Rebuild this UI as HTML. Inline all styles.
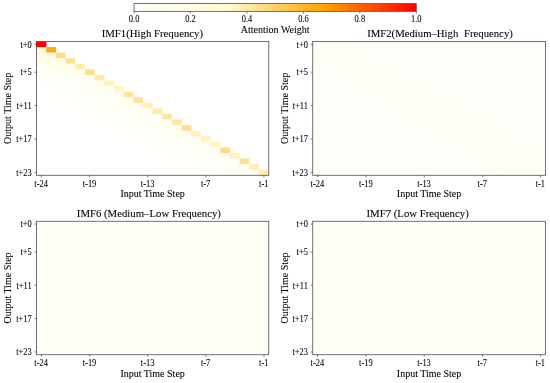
<!DOCTYPE html>
<html><head><meta charset="utf-8"><title>Attention Weight Heatmaps</title>
<style>
html,body{margin:0;padding:0;background:#fff;}
svg{display:block;}
text{font-family:"Liberation Serif","Times New Roman",serif;fill:#000;stroke:#000;stroke-width:0.08px;}
.tk{font-size:10.2px;}
.lb{font-size:10px;}
.tt{font-size:10.77px;}
</style></head><body>
<svg width="550" height="383" viewBox="0 0 550 383">
<defs><linearGradient id="cb" x1="0" x2="1" y1="0" y2="0">
<stop offset="0.0" stop-color="#ffffff"/>
<stop offset="0.3333333333333333" stop-color="#fffbd2"/>
<stop offset="0.6666666666666666" stop-color="#ffa500"/>
<stop offset="1.0" stop-color="#ff0000"/>
</linearGradient></defs>
<rect width="550" height="383" fill="#fff"/>
<rect x="134.1" y="3.5" width="282.20" height="7.90" fill="url(#cb)" stroke="#626262" stroke-width="0.9"/>
<line x1="134.10" x2="134.10" y1="11.4" y2="13.4" stroke="#444" stroke-width="0.7"/>
<text class="tk" transform="translate(134.10,21.7) scale(0.825,1)" text-anchor="middle">0.0</text>
<line x1="190.54" x2="190.54" y1="11.4" y2="13.4" stroke="#444" stroke-width="0.7"/>
<text class="tk" transform="translate(190.54,21.7) scale(0.825,1)" text-anchor="middle">0.2</text>
<line x1="246.98" x2="246.98" y1="11.4" y2="13.4" stroke="#444" stroke-width="0.7"/>
<text class="tk" transform="translate(246.98,21.7) scale(0.825,1)" text-anchor="middle">0.4</text>
<line x1="303.42" x2="303.42" y1="11.4" y2="13.4" stroke="#444" stroke-width="0.7"/>
<text class="tk" transform="translate(303.42,21.7) scale(0.825,1)" text-anchor="middle">0.6</text>
<line x1="359.86" x2="359.86" y1="11.4" y2="13.4" stroke="#444" stroke-width="0.7"/>
<text class="tk" transform="translate(359.86,21.7) scale(0.825,1)" text-anchor="middle">0.8</text>
<line x1="416.30" x2="416.30" y1="11.4" y2="13.4" stroke="#444" stroke-width="0.7"/>
<text class="tk" transform="translate(416.30,21.7) scale(0.825,1)" text-anchor="middle">1.0</text>
<text class="lb" x="275.20" y="32.8" text-anchor="middle">Attention Weight</text>
<g>
<rect x="36.5" y="41.5" width="232.25" height="133.8" fill="#ffffff"/>
<rect x="36.50" y="41.50" width="9.73" height="5.62" fill="#ff0000"/>
<rect x="36.50" y="47.08" width="9.73" height="5.62" fill="#fffacf"/>
<rect x="46.18" y="47.08" width="9.73" height="5.62" fill="#ffa90a"/>
<rect x="36.50" y="52.65" width="9.73" height="5.62" fill="#fffce2"/>
<rect x="46.18" y="52.65" width="9.73" height="5.62" fill="#fffcda"/>
<rect x="55.85" y="52.65" width="9.73" height="5.62" fill="#ffdd8a"/>
<rect x="36.50" y="58.23" width="9.73" height="5.62" fill="#fffdee"/>
<rect x="46.18" y="58.23" width="9.73" height="5.62" fill="#fffde9"/>
<rect x="55.85" y="58.23" width="9.73" height="5.62" fill="#fffce3"/>
<rect x="65.53" y="58.23" width="9.73" height="5.62" fill="#ffe193"/>
<rect x="36.50" y="63.80" width="9.73" height="5.62" fill="#fffef3"/>
<rect x="46.18" y="63.80" width="9.73" height="5.62" fill="#fffef0"/>
<rect x="55.85" y="63.80" width="9.73" height="5.62" fill="#fffdeb"/>
<rect x="65.53" y="63.80" width="9.73" height="5.62" fill="#fffde6"/>
<rect x="75.21" y="63.80" width="9.73" height="5.62" fill="#ffedb0"/>
<rect x="36.50" y="69.38" width="9.73" height="5.62" fill="#fffef7"/>
<rect x="46.18" y="69.38" width="9.73" height="5.62" fill="#fffef5"/>
<rect x="55.85" y="69.38" width="9.73" height="5.62" fill="#fffef3"/>
<rect x="65.53" y="69.38" width="9.73" height="5.62" fill="#fffeef"/>
<rect x="75.21" y="69.38" width="9.73" height="5.62" fill="#fffdea"/>
<rect x="84.89" y="69.38" width="9.73" height="5.62" fill="#ffdf8d"/>
<rect x="36.50" y="74.95" width="9.73" height="5.62" fill="#fffef9"/>
<rect x="46.18" y="74.95" width="9.73" height="5.62" fill="#fffef8"/>
<rect x="55.85" y="74.95" width="9.73" height="5.62" fill="#fffef6"/>
<rect x="65.53" y="74.95" width="9.73" height="5.62" fill="#fffef3"/>
<rect x="75.21" y="74.95" width="9.73" height="5.62" fill="#fffeef"/>
<rect x="84.89" y="74.95" width="9.73" height="5.62" fill="#fffdeb"/>
<rect x="94.56" y="74.95" width="9.73" height="5.62" fill="#ffe8a3"/>
<rect x="36.50" y="80.53" width="9.73" height="5.62" fill="#fffffb"/>
<rect x="46.18" y="80.53" width="9.73" height="5.62" fill="#fffef9"/>
<rect x="55.85" y="80.53" width="9.73" height="5.62" fill="#fffef8"/>
<rect x="65.53" y="80.53" width="9.73" height="5.62" fill="#fffef6"/>
<rect x="75.21" y="80.53" width="9.73" height="5.62" fill="#fffef3"/>
<rect x="84.89" y="80.53" width="9.73" height="5.62" fill="#fffeef"/>
<rect x="94.56" y="80.53" width="9.73" height="5.62" fill="#fffdeb"/>
<rect x="104.24" y="80.53" width="9.73" height="5.62" fill="#fff2bc"/>
<rect x="36.50" y="86.10" width="9.73" height="5.62" fill="#fffffc"/>
<rect x="46.18" y="86.10" width="9.73" height="5.62" fill="#fffffb"/>
<rect x="55.85" y="86.10" width="9.73" height="5.62" fill="#fffff9"/>
<rect x="65.53" y="86.10" width="9.73" height="5.62" fill="#fffef8"/>
<rect x="75.21" y="86.10" width="9.73" height="5.62" fill="#fffef6"/>
<rect x="84.89" y="86.10" width="9.73" height="5.62" fill="#fffef3"/>
<rect x="94.56" y="86.10" width="9.73" height="5.62" fill="#fffef0"/>
<rect x="104.24" y="86.10" width="9.73" height="5.62" fill="#fffdeb"/>
<rect x="113.92" y="86.10" width="9.73" height="5.62" fill="#fff5c2"/>
<rect x="36.50" y="91.68" width="9.73" height="5.62" fill="#fffffd"/>
<rect x="46.18" y="91.68" width="9.73" height="5.62" fill="#fffffc"/>
<rect x="55.85" y="91.68" width="9.73" height="5.62" fill="#fffffb"/>
<rect x="65.53" y="91.68" width="9.73" height="5.62" fill="#fffffa"/>
<rect x="75.21" y="91.68" width="9.73" height="5.62" fill="#fffef9"/>
<rect x="84.89" y="91.68" width="9.73" height="5.62" fill="#fffef7"/>
<rect x="94.56" y="91.68" width="9.73" height="5.62" fill="#fffef5"/>
<rect x="104.24" y="91.68" width="9.73" height="5.62" fill="#fffef2"/>
<rect x="113.92" y="91.68" width="9.73" height="5.62" fill="#fffdee"/>
<rect x="123.59" y="91.68" width="9.73" height="5.62" fill="#ffe59d"/>
<rect x="36.50" y="97.25" width="9.73" height="5.62" fill="#fffffd"/>
<rect x="46.18" y="97.25" width="9.73" height="5.62" fill="#fffffd"/>
<rect x="55.85" y="97.25" width="9.73" height="5.62" fill="#fffffc"/>
<rect x="65.53" y="97.25" width="9.73" height="5.62" fill="#fffffb"/>
<rect x="75.21" y="97.25" width="9.73" height="5.62" fill="#fffffa"/>
<rect x="84.89" y="97.25" width="9.73" height="5.62" fill="#fffef9"/>
<rect x="94.56" y="97.25" width="9.73" height="5.62" fill="#fffef7"/>
<rect x="104.24" y="97.25" width="9.73" height="5.62" fill="#fffef5"/>
<rect x="113.92" y="97.25" width="9.73" height="5.62" fill="#fffef2"/>
<rect x="123.59" y="97.25" width="9.73" height="5.62" fill="#fffeef"/>
<rect x="133.27" y="97.25" width="9.73" height="5.62" fill="#ffe193"/>
<rect x="36.50" y="102.83" width="9.73" height="5.62" fill="#fffffe"/>
<rect x="46.18" y="102.83" width="9.73" height="5.62" fill="#fffffd"/>
<rect x="55.85" y="102.83" width="9.73" height="5.62" fill="#fffffd"/>
<rect x="65.53" y="102.83" width="9.73" height="5.62" fill="#fffffc"/>
<rect x="75.21" y="102.83" width="9.73" height="5.62" fill="#fffffb"/>
<rect x="84.89" y="102.83" width="9.73" height="5.62" fill="#fffffa"/>
<rect x="94.56" y="102.83" width="9.73" height="5.62" fill="#fffef9"/>
<rect x="104.24" y="102.83" width="9.73" height="5.62" fill="#fffef7"/>
<rect x="113.92" y="102.83" width="9.73" height="5.62" fill="#fffef4"/>
<rect x="123.59" y="102.83" width="9.73" height="5.62" fill="#fffef1"/>
<rect x="133.27" y="102.83" width="9.73" height="5.62" fill="#fffded"/>
<rect x="142.95" y="102.83" width="9.73" height="5.62" fill="#fff1b9"/>
<rect x="36.50" y="108.40" width="9.73" height="5.62" fill="#fffffe"/>
<rect x="46.18" y="108.40" width="9.73" height="5.62" fill="#fffffe"/>
<rect x="55.85" y="108.40" width="9.73" height="5.62" fill="#fffffd"/>
<rect x="65.53" y="108.40" width="9.73" height="5.62" fill="#fffffd"/>
<rect x="75.21" y="108.40" width="9.73" height="5.62" fill="#fffffc"/>
<rect x="84.89" y="108.40" width="9.73" height="5.62" fill="#fffffb"/>
<rect x="94.56" y="108.40" width="9.73" height="5.62" fill="#fffffa"/>
<rect x="104.24" y="108.40" width="9.73" height="5.62" fill="#fffef9"/>
<rect x="113.92" y="108.40" width="9.73" height="5.62" fill="#fffef7"/>
<rect x="123.59" y="108.40" width="9.73" height="5.62" fill="#fffef5"/>
<rect x="133.27" y="108.40" width="9.73" height="5.62" fill="#fffef2"/>
<rect x="142.95" y="108.40" width="9.73" height="5.62" fill="#fffeee"/>
<rect x="152.62" y="108.40" width="9.73" height="5.62" fill="#ffe9a6"/>
<rect x="36.50" y="113.98" width="9.73" height="5.62" fill="#fffffe"/>
<rect x="46.18" y="113.98" width="9.73" height="5.62" fill="#fffffe"/>
<rect x="55.85" y="113.98" width="9.73" height="5.62" fill="#fffffe"/>
<rect x="65.53" y="113.98" width="9.73" height="5.62" fill="#fffffd"/>
<rect x="75.21" y="113.98" width="9.73" height="5.62" fill="#fffffd"/>
<rect x="84.89" y="113.98" width="9.73" height="5.62" fill="#fffffc"/>
<rect x="94.56" y="113.98" width="9.73" height="5.62" fill="#fffffb"/>
<rect x="104.24" y="113.98" width="9.73" height="5.62" fill="#fffffa"/>
<rect x="113.92" y="113.98" width="9.73" height="5.62" fill="#fffef9"/>
<rect x="123.59" y="113.98" width="9.73" height="5.62" fill="#fffef7"/>
<rect x="133.27" y="113.98" width="9.73" height="5.62" fill="#fffef5"/>
<rect x="142.95" y="113.98" width="9.73" height="5.62" fill="#fffef3"/>
<rect x="152.62" y="113.98" width="9.73" height="5.62" fill="#fffeef"/>
<rect x="162.30" y="113.98" width="9.73" height="5.62" fill="#ffe59d"/>
<rect x="36.50" y="119.55" width="9.73" height="5.62" fill="#fffffe"/>
<rect x="46.18" y="119.55" width="9.73" height="5.62" fill="#fffffe"/>
<rect x="55.85" y="119.55" width="9.73" height="5.62" fill="#fffffe"/>
<rect x="65.53" y="119.55" width="9.73" height="5.62" fill="#fffffe"/>
<rect x="75.21" y="119.55" width="9.73" height="5.62" fill="#fffffd"/>
<rect x="84.89" y="119.55" width="9.73" height="5.62" fill="#fffffd"/>
<rect x="94.56" y="119.55" width="9.73" height="5.62" fill="#fffffc"/>
<rect x="104.24" y="119.55" width="9.73" height="5.62" fill="#fffffb"/>
<rect x="113.92" y="119.55" width="9.73" height="5.62" fill="#fffffa"/>
<rect x="123.59" y="119.55" width="9.73" height="5.62" fill="#fffef9"/>
<rect x="133.27" y="119.55" width="9.73" height="5.62" fill="#fffef7"/>
<rect x="142.95" y="119.55" width="9.73" height="5.62" fill="#fffef5"/>
<rect x="152.62" y="119.55" width="9.73" height="5.62" fill="#fffef3"/>
<rect x="162.30" y="119.55" width="9.73" height="5.62" fill="#fffeef"/>
<rect x="171.98" y="119.55" width="9.73" height="5.62" fill="#ffe8a3"/>
<rect x="36.50" y="125.12" width="9.73" height="5.62" fill="#ffffff"/>
<rect x="46.18" y="125.12" width="9.73" height="5.62" fill="#fffffe"/>
<rect x="55.85" y="125.12" width="9.73" height="5.62" fill="#fffffe"/>
<rect x="65.53" y="125.12" width="9.73" height="5.62" fill="#fffffe"/>
<rect x="75.21" y="125.12" width="9.73" height="5.62" fill="#fffffe"/>
<rect x="84.89" y="125.12" width="9.73" height="5.62" fill="#fffffd"/>
<rect x="94.56" y="125.12" width="9.73" height="5.62" fill="#fffffd"/>
<rect x="104.24" y="125.12" width="9.73" height="5.62" fill="#fffffc"/>
<rect x="113.92" y="125.12" width="9.73" height="5.62" fill="#fffffc"/>
<rect x="123.59" y="125.12" width="9.73" height="5.62" fill="#fffffb"/>
<rect x="133.27" y="125.12" width="9.73" height="5.62" fill="#fffffa"/>
<rect x="142.95" y="125.12" width="9.73" height="5.62" fill="#fffef8"/>
<rect x="152.62" y="125.12" width="9.73" height="5.62" fill="#fffef6"/>
<rect x="162.30" y="125.12" width="9.73" height="5.62" fill="#fffef3"/>
<rect x="171.98" y="125.12" width="9.73" height="5.62" fill="#fffef0"/>
<rect x="181.66" y="125.12" width="9.73" height="5.62" fill="#ffdd8a"/>
<rect x="36.50" y="130.70" width="9.73" height="5.62" fill="#ffffff"/>
<rect x="46.18" y="130.70" width="9.73" height="5.62" fill="#fffffe"/>
<rect x="55.85" y="130.70" width="9.73" height="5.62" fill="#fffffe"/>
<rect x="65.53" y="130.70" width="9.73" height="5.62" fill="#fffffe"/>
<rect x="75.21" y="130.70" width="9.73" height="5.62" fill="#fffffe"/>
<rect x="84.89" y="130.70" width="9.73" height="5.62" fill="#fffffe"/>
<rect x="94.56" y="130.70" width="9.73" height="5.62" fill="#fffffd"/>
<rect x="104.24" y="130.70" width="9.73" height="5.62" fill="#fffffd"/>
<rect x="113.92" y="130.70" width="9.73" height="5.62" fill="#fffffc"/>
<rect x="123.59" y="130.70" width="9.73" height="5.62" fill="#fffffb"/>
<rect x="133.27" y="130.70" width="9.73" height="5.62" fill="#fffffa"/>
<rect x="142.95" y="130.70" width="9.73" height="5.62" fill="#fffef9"/>
<rect x="152.62" y="130.70" width="9.73" height="5.62" fill="#fffef7"/>
<rect x="162.30" y="130.70" width="9.73" height="5.62" fill="#fffef5"/>
<rect x="171.98" y="130.70" width="9.73" height="5.62" fill="#fffef2"/>
<rect x="181.66" y="130.70" width="9.73" height="5.62" fill="#fffdee"/>
<rect x="191.33" y="130.70" width="9.73" height="5.62" fill="#fff2bc"/>
<rect x="36.50" y="136.28" width="9.73" height="5.62" fill="#ffffff"/>
<rect x="46.18" y="136.28" width="9.73" height="5.62" fill="#ffffff"/>
<rect x="55.85" y="136.28" width="9.73" height="5.62" fill="#fffffe"/>
<rect x="65.53" y="136.28" width="9.73" height="5.62" fill="#fffffe"/>
<rect x="75.21" y="136.28" width="9.73" height="5.62" fill="#fffffe"/>
<rect x="84.89" y="136.28" width="9.73" height="5.62" fill="#fffffe"/>
<rect x="94.56" y="136.28" width="9.73" height="5.62" fill="#fffffe"/>
<rect x="104.24" y="136.28" width="9.73" height="5.62" fill="#fffffd"/>
<rect x="113.92" y="136.28" width="9.73" height="5.62" fill="#fffffd"/>
<rect x="123.59" y="136.28" width="9.73" height="5.62" fill="#fffffc"/>
<rect x="133.27" y="136.28" width="9.73" height="5.62" fill="#fffffb"/>
<rect x="142.95" y="136.28" width="9.73" height="5.62" fill="#fffffa"/>
<rect x="152.62" y="136.28" width="9.73" height="5.62" fill="#fffef9"/>
<rect x="162.30" y="136.28" width="9.73" height="5.62" fill="#fffef7"/>
<rect x="171.98" y="136.28" width="9.73" height="5.62" fill="#fffef5"/>
<rect x="181.66" y="136.28" width="9.73" height="5.62" fill="#fffef2"/>
<rect x="191.33" y="136.28" width="9.73" height="5.62" fill="#fffdee"/>
<rect x="201.01" y="136.28" width="9.73" height="5.62" fill="#fff3bf"/>
<rect x="36.50" y="141.85" width="9.73" height="5.62" fill="#ffffff"/>
<rect x="46.18" y="141.85" width="9.73" height="5.62" fill="#ffffff"/>
<rect x="55.85" y="141.85" width="9.73" height="5.62" fill="#ffffff"/>
<rect x="65.53" y="141.85" width="9.73" height="5.62" fill="#fffffe"/>
<rect x="75.21" y="141.85" width="9.73" height="5.62" fill="#fffffe"/>
<rect x="84.89" y="141.85" width="9.73" height="5.62" fill="#fffffe"/>
<rect x="94.56" y="141.85" width="9.73" height="5.62" fill="#fffffe"/>
<rect x="104.24" y="141.85" width="9.73" height="5.62" fill="#fffffe"/>
<rect x="113.92" y="141.85" width="9.73" height="5.62" fill="#fffffd"/>
<rect x="123.59" y="141.85" width="9.73" height="5.62" fill="#fffffd"/>
<rect x="133.27" y="141.85" width="9.73" height="5.62" fill="#fffffc"/>
<rect x="142.95" y="141.85" width="9.73" height="5.62" fill="#fffffb"/>
<rect x="152.62" y="141.85" width="9.73" height="5.62" fill="#fffffa"/>
<rect x="162.30" y="141.85" width="9.73" height="5.62" fill="#fffef9"/>
<rect x="171.98" y="141.85" width="9.73" height="5.62" fill="#fffef7"/>
<rect x="181.66" y="141.85" width="9.73" height="5.62" fill="#fffef5"/>
<rect x="191.33" y="141.85" width="9.73" height="5.62" fill="#fffef2"/>
<rect x="201.01" y="141.85" width="9.73" height="5.62" fill="#fffdee"/>
<rect x="210.69" y="141.85" width="9.73" height="5.62" fill="#fff3bf"/>
<rect x="36.50" y="147.43" width="9.73" height="5.62" fill="#ffffff"/>
<rect x="46.18" y="147.43" width="9.73" height="5.62" fill="#ffffff"/>
<rect x="55.85" y="147.43" width="9.73" height="5.62" fill="#ffffff"/>
<rect x="65.53" y="147.43" width="9.73" height="5.62" fill="#ffffff"/>
<rect x="75.21" y="147.43" width="9.73" height="5.62" fill="#ffffff"/>
<rect x="84.89" y="147.43" width="9.73" height="5.62" fill="#fffffe"/>
<rect x="94.56" y="147.43" width="9.73" height="5.62" fill="#fffffe"/>
<rect x="104.24" y="147.43" width="9.73" height="5.62" fill="#fffffe"/>
<rect x="113.92" y="147.43" width="9.73" height="5.62" fill="#fffffe"/>
<rect x="123.59" y="147.43" width="9.73" height="5.62" fill="#fffffd"/>
<rect x="133.27" y="147.43" width="9.73" height="5.62" fill="#fffffd"/>
<rect x="142.95" y="147.43" width="9.73" height="5.62" fill="#fffffd"/>
<rect x="152.62" y="147.43" width="9.73" height="5.62" fill="#fffffc"/>
<rect x="162.30" y="147.43" width="9.73" height="5.62" fill="#fffffb"/>
<rect x="171.98" y="147.43" width="9.73" height="5.62" fill="#fffffa"/>
<rect x="181.66" y="147.43" width="9.73" height="5.62" fill="#fffef8"/>
<rect x="191.33" y="147.43" width="9.73" height="5.62" fill="#fffef6"/>
<rect x="201.01" y="147.43" width="9.73" height="5.62" fill="#fffef4"/>
<rect x="210.69" y="147.43" width="9.73" height="5.62" fill="#fffef1"/>
<rect x="220.36" y="147.43" width="9.73" height="5.62" fill="#ffda80"/>
<rect x="36.50" y="153.00" width="9.73" height="5.62" fill="#ffffff"/>
<rect x="46.18" y="153.00" width="9.73" height="5.62" fill="#ffffff"/>
<rect x="55.85" y="153.00" width="9.73" height="5.62" fill="#ffffff"/>
<rect x="65.53" y="153.00" width="9.73" height="5.62" fill="#ffffff"/>
<rect x="75.21" y="153.00" width="9.73" height="5.62" fill="#ffffff"/>
<rect x="84.89" y="153.00" width="9.73" height="5.62" fill="#fffffe"/>
<rect x="94.56" y="153.00" width="9.73" height="5.62" fill="#fffffe"/>
<rect x="104.24" y="153.00" width="9.73" height="5.62" fill="#fffffe"/>
<rect x="113.92" y="153.00" width="9.73" height="5.62" fill="#fffffe"/>
<rect x="123.59" y="153.00" width="9.73" height="5.62" fill="#fffffe"/>
<rect x="133.27" y="153.00" width="9.73" height="5.62" fill="#fffffd"/>
<rect x="142.95" y="153.00" width="9.73" height="5.62" fill="#fffffd"/>
<rect x="152.62" y="153.00" width="9.73" height="5.62" fill="#fffffc"/>
<rect x="162.30" y="153.00" width="9.73" height="5.62" fill="#fffffb"/>
<rect x="171.98" y="153.00" width="9.73" height="5.62" fill="#fffffa"/>
<rect x="181.66" y="153.00" width="9.73" height="5.62" fill="#fffef9"/>
<rect x="191.33" y="153.00" width="9.73" height="5.62" fill="#fffef7"/>
<rect x="201.01" y="153.00" width="9.73" height="5.62" fill="#fffef5"/>
<rect x="210.69" y="153.00" width="9.73" height="5.62" fill="#fffef2"/>
<rect x="220.36" y="153.00" width="9.73" height="5.62" fill="#fffeee"/>
<rect x="230.04" y="153.00" width="9.73" height="5.62" fill="#fff2bc"/>
<rect x="36.50" y="158.57" width="9.73" height="5.62" fill="#ffffff"/>
<rect x="46.18" y="158.57" width="9.73" height="5.62" fill="#ffffff"/>
<rect x="55.85" y="158.57" width="9.73" height="5.62" fill="#ffffff"/>
<rect x="65.53" y="158.57" width="9.73" height="5.62" fill="#ffffff"/>
<rect x="75.21" y="158.57" width="9.73" height="5.62" fill="#ffffff"/>
<rect x="84.89" y="158.57" width="9.73" height="5.62" fill="#ffffff"/>
<rect x="94.56" y="158.57" width="9.73" height="5.62" fill="#ffffff"/>
<rect x="104.24" y="158.57" width="9.73" height="5.62" fill="#fffffe"/>
<rect x="113.92" y="158.57" width="9.73" height="5.62" fill="#fffffe"/>
<rect x="123.59" y="158.57" width="9.73" height="5.62" fill="#fffffe"/>
<rect x="133.27" y="158.57" width="9.73" height="5.62" fill="#fffffe"/>
<rect x="142.95" y="158.57" width="9.73" height="5.62" fill="#fffffd"/>
<rect x="152.62" y="158.57" width="9.73" height="5.62" fill="#fffffd"/>
<rect x="162.30" y="158.57" width="9.73" height="5.62" fill="#fffffc"/>
<rect x="171.98" y="158.57" width="9.73" height="5.62" fill="#fffffc"/>
<rect x="181.66" y="158.57" width="9.73" height="5.62" fill="#fffffb"/>
<rect x="191.33" y="158.57" width="9.73" height="5.62" fill="#fffffa"/>
<rect x="201.01" y="158.57" width="9.73" height="5.62" fill="#fffef8"/>
<rect x="210.69" y="158.57" width="9.73" height="5.62" fill="#fffef6"/>
<rect x="220.36" y="158.57" width="9.73" height="5.62" fill="#fffef4"/>
<rect x="230.04" y="158.57" width="9.73" height="5.62" fill="#fffef0"/>
<rect x="239.72" y="158.57" width="9.73" height="5.62" fill="#ffdf8d"/>
<rect x="36.50" y="164.15" width="9.73" height="5.62" fill="#ffffff"/>
<rect x="46.18" y="164.15" width="9.73" height="5.62" fill="#ffffff"/>
<rect x="55.85" y="164.15" width="9.73" height="5.62" fill="#ffffff"/>
<rect x="65.53" y="164.15" width="9.73" height="5.62" fill="#ffffff"/>
<rect x="75.21" y="164.15" width="9.73" height="5.62" fill="#ffffff"/>
<rect x="84.89" y="164.15" width="9.73" height="5.62" fill="#ffffff"/>
<rect x="94.56" y="164.15" width="9.73" height="5.62" fill="#ffffff"/>
<rect x="104.24" y="164.15" width="9.73" height="5.62" fill="#ffffff"/>
<rect x="113.92" y="164.15" width="9.73" height="5.62" fill="#fffffe"/>
<rect x="123.59" y="164.15" width="9.73" height="5.62" fill="#fffffe"/>
<rect x="133.27" y="164.15" width="9.73" height="5.62" fill="#fffffe"/>
<rect x="142.95" y="164.15" width="9.73" height="5.62" fill="#fffffe"/>
<rect x="152.62" y="164.15" width="9.73" height="5.62" fill="#fffffd"/>
<rect x="162.30" y="164.15" width="9.73" height="5.62" fill="#fffffd"/>
<rect x="171.98" y="164.15" width="9.73" height="5.62" fill="#fffffc"/>
<rect x="181.66" y="164.15" width="9.73" height="5.62" fill="#fffffb"/>
<rect x="191.33" y="164.15" width="9.73" height="5.62" fill="#fffffa"/>
<rect x="201.01" y="164.15" width="9.73" height="5.62" fill="#fffef9"/>
<rect x="210.69" y="164.15" width="9.73" height="5.62" fill="#fffef7"/>
<rect x="220.36" y="164.15" width="9.73" height="5.62" fill="#fffef5"/>
<rect x="230.04" y="164.15" width="9.73" height="5.62" fill="#fffef2"/>
<rect x="239.72" y="164.15" width="9.73" height="5.62" fill="#fffeef"/>
<rect x="249.40" y="164.15" width="9.73" height="5.62" fill="#ffedb0"/>
<rect x="36.50" y="169.72" width="9.73" height="5.62" fill="#ffffff"/>
<rect x="46.18" y="169.72" width="9.73" height="5.62" fill="#ffffff"/>
<rect x="55.85" y="169.72" width="9.73" height="5.62" fill="#ffffff"/>
<rect x="65.53" y="169.72" width="9.73" height="5.62" fill="#ffffff"/>
<rect x="75.21" y="169.72" width="9.73" height="5.62" fill="#ffffff"/>
<rect x="84.89" y="169.72" width="9.73" height="5.62" fill="#ffffff"/>
<rect x="94.56" y="169.72" width="9.73" height="5.62" fill="#ffffff"/>
<rect x="104.24" y="169.72" width="9.73" height="5.62" fill="#ffffff"/>
<rect x="113.92" y="169.72" width="9.73" height="5.62" fill="#ffffff"/>
<rect x="123.59" y="169.72" width="9.73" height="5.62" fill="#fffffe"/>
<rect x="133.27" y="169.72" width="9.73" height="5.62" fill="#fffffe"/>
<rect x="142.95" y="169.72" width="9.73" height="5.62" fill="#fffffe"/>
<rect x="152.62" y="169.72" width="9.73" height="5.62" fill="#fffffe"/>
<rect x="162.30" y="169.72" width="9.73" height="5.62" fill="#fffffd"/>
<rect x="171.98" y="169.72" width="9.73" height="5.62" fill="#fffffd"/>
<rect x="181.66" y="169.72" width="9.73" height="5.62" fill="#fffffc"/>
<rect x="191.33" y="169.72" width="9.73" height="5.62" fill="#fffffb"/>
<rect x="201.01" y="169.72" width="9.73" height="5.62" fill="#fffffa"/>
<rect x="210.69" y="169.72" width="9.73" height="5.62" fill="#fffef9"/>
<rect x="220.36" y="169.72" width="9.73" height="5.62" fill="#fffef7"/>
<rect x="230.04" y="169.72" width="9.73" height="5.62" fill="#fffef5"/>
<rect x="239.72" y="169.72" width="9.73" height="5.62" fill="#fffef2"/>
<rect x="249.40" y="169.72" width="9.73" height="5.62" fill="#fffeef"/>
<rect x="259.07" y="169.72" width="9.73" height="5.62" fill="#ffedb0"/>
</g>
<rect x="36.5" y="41.5" width="232.25" height="133.8" fill="none" stroke="#626262" stroke-width="0.9"/>
<rect x="36.10" y="41.80" width="10.08" height="5.28" fill="#ff0000"/>
<line x1="41.34" x2="41.34" y1="175.3" y2="177.3" stroke="#444" stroke-width="0.7"/>
<text class="tk" transform="translate(41.14,186.75) scale(0.825,1)" text-anchor="middle">t-24</text>
<line x1="89.72" x2="89.72" y1="175.3" y2="177.3" stroke="#444" stroke-width="0.7"/>
<text class="tk" transform="translate(89.52,186.75) scale(0.825,1)" text-anchor="middle">t-19</text>
<line x1="147.79" x2="147.79" y1="175.3" y2="177.3" stroke="#444" stroke-width="0.7"/>
<text class="tk" transform="translate(147.59,186.75) scale(0.825,1)" text-anchor="middle">t-13</text>
<line x1="205.85" x2="205.85" y1="175.3" y2="177.3" stroke="#444" stroke-width="0.7"/>
<text class="tk" transform="translate(205.65,186.75) scale(0.825,1)" text-anchor="middle">t-7</text>
<line x1="263.91" x2="263.91" y1="175.3" y2="177.3" stroke="#444" stroke-width="0.7"/>
<text class="tk" transform="translate(263.71,186.75) scale(0.825,1)" text-anchor="middle">t-1</text>
<line x1="34.5" x2="36.5" y1="44.29" y2="44.29" stroke="#444" stroke-width="0.7"/>
<text class="tk" transform="translate(31.70,47.59) scale(0.825,1)" text-anchor="end">t+0</text>
<line x1="34.5" x2="36.5" y1="72.16" y2="72.16" stroke="#444" stroke-width="0.7"/>
<text class="tk" transform="translate(31.70,75.46) scale(0.825,1)" text-anchor="end">t+5</text>
<line x1="34.5" x2="36.5" y1="105.61" y2="105.61" stroke="#444" stroke-width="0.7"/>
<text class="tk" transform="translate(31.70,108.91) scale(0.825,1)" text-anchor="end">t+11</text>
<line x1="34.5" x2="36.5" y1="139.06" y2="139.06" stroke="#444" stroke-width="0.7"/>
<text class="tk" transform="translate(31.70,142.36) scale(0.825,1)" text-anchor="end">t+17</text>
<line x1="34.5" x2="36.5" y1="172.51" y2="172.51" stroke="#444" stroke-width="0.7"/>
<text class="tk" transform="translate(31.70,175.81) scale(0.825,1)" text-anchor="end">t+23</text>
<text class="lb" x="152.62" y="196.90" text-anchor="middle">Input Time Step</text>
<text class="lb" transform="translate(11.10,108.40) rotate(-90)" text-anchor="middle">Output Time Step</text>
<text class="tt" x="101.7" y="37.25">IMF1(High Frequency)</text>
<g>
<rect x="312.7" y="41.5" width="232.75" height="133.8" fill="#fffffa"/>
<rect x="312.70" y="41.50" width="9.75" height="5.62" fill="#fffef6"/>
<rect x="322.40" y="41.50" width="9.75" height="5.62" fill="#fffef6"/>
<rect x="332.10" y="41.50" width="9.75" height="5.62" fill="#fffef7"/>
<rect x="341.79" y="41.50" width="9.75" height="5.62" fill="#fffef7"/>
<rect x="351.49" y="41.50" width="9.75" height="5.62" fill="#fffef8"/>
<rect x="361.19" y="41.50" width="9.75" height="5.62" fill="#fffef8"/>
<rect x="370.89" y="41.50" width="9.75" height="5.62" fill="#fffef9"/>
<rect x="380.59" y="41.50" width="9.75" height="5.62" fill="#fffef9"/>
<rect x="390.28" y="41.50" width="9.75" height="5.62" fill="#fffffa"/>
<rect x="399.98" y="41.50" width="9.75" height="5.62" fill="#fffffa"/>
<rect x="409.68" y="41.50" width="9.75" height="5.62" fill="#fffffa"/>
<rect x="419.38" y="41.50" width="9.75" height="5.62" fill="#fffffa"/>
<rect x="429.07" y="41.50" width="9.75" height="5.62" fill="#fffffa"/>
<rect x="438.77" y="41.50" width="9.75" height="5.62" fill="#fffffa"/>
<rect x="448.47" y="41.50" width="9.75" height="5.62" fill="#fffffa"/>
<rect x="312.70" y="47.08" width="9.75" height="5.62" fill="#fffef6"/>
<rect x="322.40" y="47.08" width="9.75" height="5.62" fill="#fffef6"/>
<rect x="332.10" y="47.08" width="9.75" height="5.62" fill="#fffef6"/>
<rect x="341.79" y="47.08" width="9.75" height="5.62" fill="#fffef7"/>
<rect x="351.49" y="47.08" width="9.75" height="5.62" fill="#fffef7"/>
<rect x="361.19" y="47.08" width="9.75" height="5.62" fill="#fffef8"/>
<rect x="370.89" y="47.08" width="9.75" height="5.62" fill="#fffef8"/>
<rect x="380.59" y="47.08" width="9.75" height="5.62" fill="#fffef9"/>
<rect x="390.28" y="47.08" width="9.75" height="5.62" fill="#fffef9"/>
<rect x="399.98" y="47.08" width="9.75" height="5.62" fill="#fffffa"/>
<rect x="409.68" y="47.08" width="9.75" height="5.62" fill="#fffffa"/>
<rect x="419.38" y="47.08" width="9.75" height="5.62" fill="#fffffa"/>
<rect x="429.07" y="47.08" width="9.75" height="5.62" fill="#fffffa"/>
<rect x="438.77" y="47.08" width="9.75" height="5.62" fill="#fffffa"/>
<rect x="448.47" y="47.08" width="9.75" height="5.62" fill="#fffffa"/>
<rect x="458.17" y="47.08" width="9.75" height="5.62" fill="#fffffa"/>
<rect x="312.70" y="52.65" width="9.75" height="5.62" fill="#fffef7"/>
<rect x="322.40" y="52.65" width="9.75" height="5.62" fill="#fffef6"/>
<rect x="332.10" y="52.65" width="9.75" height="5.62" fill="#fffef6"/>
<rect x="341.79" y="52.65" width="9.75" height="5.62" fill="#fffef6"/>
<rect x="351.49" y="52.65" width="9.75" height="5.62" fill="#fffef7"/>
<rect x="361.19" y="52.65" width="9.75" height="5.62" fill="#fffef7"/>
<rect x="370.89" y="52.65" width="9.75" height="5.62" fill="#fffef8"/>
<rect x="380.59" y="52.65" width="9.75" height="5.62" fill="#fffef8"/>
<rect x="390.28" y="52.65" width="9.75" height="5.62" fill="#fffef9"/>
<rect x="399.98" y="52.65" width="9.75" height="5.62" fill="#fffef9"/>
<rect x="409.68" y="52.65" width="9.75" height="5.62" fill="#fffffa"/>
<rect x="419.38" y="52.65" width="9.75" height="5.62" fill="#fffffa"/>
<rect x="429.07" y="52.65" width="9.75" height="5.62" fill="#fffffa"/>
<rect x="438.77" y="52.65" width="9.75" height="5.62" fill="#fffffa"/>
<rect x="448.47" y="52.65" width="9.75" height="5.62" fill="#fffffa"/>
<rect x="458.17" y="52.65" width="9.75" height="5.62" fill="#fffffa"/>
<rect x="467.87" y="52.65" width="9.75" height="5.62" fill="#fffffa"/>
<rect x="312.70" y="58.23" width="9.75" height="5.62" fill="#fffef7"/>
<rect x="322.40" y="58.23" width="9.75" height="5.62" fill="#fffef7"/>
<rect x="332.10" y="58.23" width="9.75" height="5.62" fill="#fffef6"/>
<rect x="341.79" y="58.23" width="9.75" height="5.62" fill="#fffef6"/>
<rect x="351.49" y="58.23" width="9.75" height="5.62" fill="#fffef6"/>
<rect x="361.19" y="58.23" width="9.75" height="5.62" fill="#fffef7"/>
<rect x="370.89" y="58.23" width="9.75" height="5.62" fill="#fffef7"/>
<rect x="380.59" y="58.23" width="9.75" height="5.62" fill="#fffef8"/>
<rect x="390.28" y="58.23" width="9.75" height="5.62" fill="#fffef8"/>
<rect x="399.98" y="58.23" width="9.75" height="5.62" fill="#fffef9"/>
<rect x="409.68" y="58.23" width="9.75" height="5.62" fill="#fffef9"/>
<rect x="419.38" y="58.23" width="9.75" height="5.62" fill="#fffffa"/>
<rect x="429.07" y="58.23" width="9.75" height="5.62" fill="#fffffa"/>
<rect x="438.77" y="58.23" width="9.75" height="5.62" fill="#fffffa"/>
<rect x="448.47" y="58.23" width="9.75" height="5.62" fill="#fffffa"/>
<rect x="458.17" y="58.23" width="9.75" height="5.62" fill="#fffffa"/>
<rect x="467.87" y="58.23" width="9.75" height="5.62" fill="#fffffa"/>
<rect x="477.56" y="58.23" width="9.75" height="5.62" fill="#fffffa"/>
<rect x="312.70" y="63.80" width="9.75" height="5.62" fill="#fffef8"/>
<rect x="322.40" y="63.80" width="9.75" height="5.62" fill="#fffef7"/>
<rect x="332.10" y="63.80" width="9.75" height="5.62" fill="#fffef6"/>
<rect x="341.79" y="63.80" width="9.75" height="5.62" fill="#fffef6"/>
<rect x="351.49" y="63.80" width="9.75" height="5.62" fill="#fffef6"/>
<rect x="361.19" y="63.80" width="9.75" height="5.62" fill="#fffef6"/>
<rect x="370.89" y="63.80" width="9.75" height="5.62" fill="#fffef6"/>
<rect x="380.59" y="63.80" width="9.75" height="5.62" fill="#fffef7"/>
<rect x="390.28" y="63.80" width="9.75" height="5.62" fill="#fffef8"/>
<rect x="399.98" y="63.80" width="9.75" height="5.62" fill="#fffef8"/>
<rect x="409.68" y="63.80" width="9.75" height="5.62" fill="#fffef9"/>
<rect x="419.38" y="63.80" width="9.75" height="5.62" fill="#fffef9"/>
<rect x="429.07" y="63.80" width="9.75" height="5.62" fill="#fffffa"/>
<rect x="438.77" y="63.80" width="9.75" height="5.62" fill="#fffffa"/>
<rect x="448.47" y="63.80" width="9.75" height="5.62" fill="#fffffa"/>
<rect x="458.17" y="63.80" width="9.75" height="5.62" fill="#fffffa"/>
<rect x="467.87" y="63.80" width="9.75" height="5.62" fill="#fffffa"/>
<rect x="477.56" y="63.80" width="9.75" height="5.62" fill="#fffffa"/>
<rect x="487.26" y="63.80" width="9.75" height="5.62" fill="#fffffa"/>
<rect x="312.70" y="69.38" width="9.75" height="5.62" fill="#fffef8"/>
<rect x="322.40" y="69.38" width="9.75" height="5.62" fill="#fffef8"/>
<rect x="332.10" y="69.38" width="9.75" height="5.62" fill="#fffef7"/>
<rect x="341.79" y="69.38" width="9.75" height="5.62" fill="#fffef6"/>
<rect x="351.49" y="69.38" width="9.75" height="5.62" fill="#fffef6"/>
<rect x="361.19" y="69.38" width="9.75" height="5.62" fill="#fffef6"/>
<rect x="370.89" y="69.38" width="9.75" height="5.62" fill="#fffef6"/>
<rect x="380.59" y="69.38" width="9.75" height="5.62" fill="#fffef6"/>
<rect x="390.28" y="69.38" width="9.75" height="5.62" fill="#fffef7"/>
<rect x="399.98" y="69.38" width="9.75" height="5.62" fill="#fffef8"/>
<rect x="409.68" y="69.38" width="9.75" height="5.62" fill="#fffef8"/>
<rect x="419.38" y="69.38" width="9.75" height="5.62" fill="#fffef9"/>
<rect x="429.07" y="69.38" width="9.75" height="5.62" fill="#fffef9"/>
<rect x="438.77" y="69.38" width="9.75" height="5.62" fill="#fffffa"/>
<rect x="448.47" y="69.38" width="9.75" height="5.62" fill="#fffffa"/>
<rect x="458.17" y="69.38" width="9.75" height="5.62" fill="#fffffa"/>
<rect x="467.87" y="69.38" width="9.75" height="5.62" fill="#fffffa"/>
<rect x="477.56" y="69.38" width="9.75" height="5.62" fill="#fffffa"/>
<rect x="487.26" y="69.38" width="9.75" height="5.62" fill="#fffffa"/>
<rect x="496.96" y="69.38" width="9.75" height="5.62" fill="#fffffa"/>
<rect x="312.70" y="74.95" width="9.75" height="5.62" fill="#fffef9"/>
<rect x="322.40" y="74.95" width="9.75" height="5.62" fill="#fffef8"/>
<rect x="332.10" y="74.95" width="9.75" height="5.62" fill="#fffef7"/>
<rect x="341.79" y="74.95" width="9.75" height="5.62" fill="#fffef7"/>
<rect x="351.49" y="74.95" width="9.75" height="5.62" fill="#fffef6"/>
<rect x="361.19" y="74.95" width="9.75" height="5.62" fill="#fffef6"/>
<rect x="370.89" y="74.95" width="9.75" height="5.62" fill="#fffef6"/>
<rect x="380.59" y="74.95" width="9.75" height="5.62" fill="#fffef6"/>
<rect x="390.28" y="74.95" width="9.75" height="5.62" fill="#fffef6"/>
<rect x="399.98" y="74.95" width="9.75" height="5.62" fill="#fffef7"/>
<rect x="409.68" y="74.95" width="9.75" height="5.62" fill="#fffef7"/>
<rect x="419.38" y="74.95" width="9.75" height="5.62" fill="#fffef8"/>
<rect x="429.07" y="74.95" width="9.75" height="5.62" fill="#fffef9"/>
<rect x="438.77" y="74.95" width="9.75" height="5.62" fill="#fffef9"/>
<rect x="448.47" y="74.95" width="9.75" height="5.62" fill="#fffffa"/>
<rect x="458.17" y="74.95" width="9.75" height="5.62" fill="#fffffa"/>
<rect x="467.87" y="74.95" width="9.75" height="5.62" fill="#fffffa"/>
<rect x="477.56" y="74.95" width="9.75" height="5.62" fill="#fffffa"/>
<rect x="487.26" y="74.95" width="9.75" height="5.62" fill="#fffffa"/>
<rect x="496.96" y="74.95" width="9.75" height="5.62" fill="#fffffa"/>
<rect x="506.66" y="74.95" width="9.75" height="5.62" fill="#fffffa"/>
<rect x="312.70" y="80.53" width="9.75" height="5.62" fill="#fffef9"/>
<rect x="322.40" y="80.53" width="9.75" height="5.62" fill="#fffef9"/>
<rect x="332.10" y="80.53" width="9.75" height="5.62" fill="#fffef8"/>
<rect x="341.79" y="80.53" width="9.75" height="5.62" fill="#fffef7"/>
<rect x="351.49" y="80.53" width="9.75" height="5.62" fill="#fffef7"/>
<rect x="361.19" y="80.53" width="9.75" height="5.62" fill="#fffef6"/>
<rect x="370.89" y="80.53" width="9.75" height="5.62" fill="#fffef6"/>
<rect x="380.59" y="80.53" width="9.75" height="5.62" fill="#fffef6"/>
<rect x="390.28" y="80.53" width="9.75" height="5.62" fill="#fffef6"/>
<rect x="399.98" y="80.53" width="9.75" height="5.62" fill="#fffef6"/>
<rect x="409.68" y="80.53" width="9.75" height="5.62" fill="#fffef7"/>
<rect x="419.38" y="80.53" width="9.75" height="5.62" fill="#fffef7"/>
<rect x="429.07" y="80.53" width="9.75" height="5.62" fill="#fffef8"/>
<rect x="438.77" y="80.53" width="9.75" height="5.62" fill="#fffef9"/>
<rect x="448.47" y="80.53" width="9.75" height="5.62" fill="#fffef9"/>
<rect x="458.17" y="80.53" width="9.75" height="5.62" fill="#fffffa"/>
<rect x="467.87" y="80.53" width="9.75" height="5.62" fill="#fffffa"/>
<rect x="477.56" y="80.53" width="9.75" height="5.62" fill="#fffffa"/>
<rect x="487.26" y="80.53" width="9.75" height="5.62" fill="#fffffa"/>
<rect x="496.96" y="80.53" width="9.75" height="5.62" fill="#fffffa"/>
<rect x="506.66" y="80.53" width="9.75" height="5.62" fill="#fffffa"/>
<rect x="516.36" y="80.53" width="9.75" height="5.62" fill="#fffffa"/>
<rect x="312.70" y="86.10" width="9.75" height="5.62" fill="#fffffa"/>
<rect x="322.40" y="86.10" width="9.75" height="5.62" fill="#fffef9"/>
<rect x="332.10" y="86.10" width="9.75" height="5.62" fill="#fffef9"/>
<rect x="341.79" y="86.10" width="9.75" height="5.62" fill="#fffef8"/>
<rect x="351.49" y="86.10" width="9.75" height="5.62" fill="#fffef7"/>
<rect x="361.19" y="86.10" width="9.75" height="5.62" fill="#fffef7"/>
<rect x="370.89" y="86.10" width="9.75" height="5.62" fill="#fffef6"/>
<rect x="380.59" y="86.10" width="9.75" height="5.62" fill="#fffef6"/>
<rect x="390.28" y="86.10" width="9.75" height="5.62" fill="#fffef6"/>
<rect x="399.98" y="86.10" width="9.75" height="5.62" fill="#fffef6"/>
<rect x="409.68" y="86.10" width="9.75" height="5.62" fill="#fffef6"/>
<rect x="419.38" y="86.10" width="9.75" height="5.62" fill="#fffef7"/>
<rect x="429.07" y="86.10" width="9.75" height="5.62" fill="#fffef7"/>
<rect x="438.77" y="86.10" width="9.75" height="5.62" fill="#fffef8"/>
<rect x="448.47" y="86.10" width="9.75" height="5.62" fill="#fffef9"/>
<rect x="458.17" y="86.10" width="9.75" height="5.62" fill="#fffef9"/>
<rect x="467.87" y="86.10" width="9.75" height="5.62" fill="#fffffa"/>
<rect x="477.56" y="86.10" width="9.75" height="5.62" fill="#fffffa"/>
<rect x="487.26" y="86.10" width="9.75" height="5.62" fill="#fffffa"/>
<rect x="496.96" y="86.10" width="9.75" height="5.62" fill="#fffffa"/>
<rect x="506.66" y="86.10" width="9.75" height="5.62" fill="#fffffa"/>
<rect x="516.36" y="86.10" width="9.75" height="5.62" fill="#fffffa"/>
<rect x="526.05" y="86.10" width="9.75" height="5.62" fill="#fffffa"/>
<rect x="312.70" y="91.68" width="9.75" height="5.62" fill="#fffffa"/>
<rect x="322.40" y="91.68" width="9.75" height="5.62" fill="#fffffa"/>
<rect x="332.10" y="91.68" width="9.75" height="5.62" fill="#fffef9"/>
<rect x="341.79" y="91.68" width="9.75" height="5.62" fill="#fffef9"/>
<rect x="351.49" y="91.68" width="9.75" height="5.62" fill="#fffef8"/>
<rect x="361.19" y="91.68" width="9.75" height="5.62" fill="#fffef7"/>
<rect x="370.89" y="91.68" width="9.75" height="5.62" fill="#fffef7"/>
<rect x="380.59" y="91.68" width="9.75" height="5.62" fill="#fffef6"/>
<rect x="390.28" y="91.68" width="9.75" height="5.62" fill="#fffef6"/>
<rect x="399.98" y="91.68" width="9.75" height="5.62" fill="#fffef6"/>
<rect x="409.68" y="91.68" width="9.75" height="5.62" fill="#fffef6"/>
<rect x="419.38" y="91.68" width="9.75" height="5.62" fill="#fffef6"/>
<rect x="429.07" y="91.68" width="9.75" height="5.62" fill="#fffef7"/>
<rect x="438.77" y="91.68" width="9.75" height="5.62" fill="#fffef7"/>
<rect x="448.47" y="91.68" width="9.75" height="5.62" fill="#fffef8"/>
<rect x="458.17" y="91.68" width="9.75" height="5.62" fill="#fffef9"/>
<rect x="467.87" y="91.68" width="9.75" height="5.62" fill="#fffef9"/>
<rect x="477.56" y="91.68" width="9.75" height="5.62" fill="#fffffa"/>
<rect x="487.26" y="91.68" width="9.75" height="5.62" fill="#fffffa"/>
<rect x="496.96" y="91.68" width="9.75" height="5.62" fill="#fffffa"/>
<rect x="506.66" y="91.68" width="9.75" height="5.62" fill="#fffffa"/>
<rect x="516.36" y="91.68" width="9.75" height="5.62" fill="#fffffa"/>
<rect x="526.05" y="91.68" width="9.75" height="5.62" fill="#fffffa"/>
<rect x="535.75" y="91.68" width="9.75" height="5.62" fill="#fffffa"/>
<rect x="312.70" y="97.25" width="9.75" height="5.62" fill="#fffffa"/>
<rect x="322.40" y="97.25" width="9.75" height="5.62" fill="#fffffa"/>
<rect x="332.10" y="97.25" width="9.75" height="5.62" fill="#fffffa"/>
<rect x="341.79" y="97.25" width="9.75" height="5.62" fill="#fffef9"/>
<rect x="351.49" y="97.25" width="9.75" height="5.62" fill="#fffef9"/>
<rect x="361.19" y="97.25" width="9.75" height="5.62" fill="#fffef8"/>
<rect x="370.89" y="97.25" width="9.75" height="5.62" fill="#fffef7"/>
<rect x="380.59" y="97.25" width="9.75" height="5.62" fill="#fffef7"/>
<rect x="390.28" y="97.25" width="9.75" height="5.62" fill="#fffef6"/>
<rect x="399.98" y="97.25" width="9.75" height="5.62" fill="#fffef6"/>
<rect x="409.68" y="97.25" width="9.75" height="5.62" fill="#fffef6"/>
<rect x="419.38" y="97.25" width="9.75" height="5.62" fill="#fffef6"/>
<rect x="429.07" y="97.25" width="9.75" height="5.62" fill="#fffef6"/>
<rect x="438.77" y="97.25" width="9.75" height="5.62" fill="#fffef7"/>
<rect x="448.47" y="97.25" width="9.75" height="5.62" fill="#fffef7"/>
<rect x="458.17" y="97.25" width="9.75" height="5.62" fill="#fffef8"/>
<rect x="467.87" y="97.25" width="9.75" height="5.62" fill="#fffef9"/>
<rect x="477.56" y="97.25" width="9.75" height="5.62" fill="#fffef9"/>
<rect x="487.26" y="97.25" width="9.75" height="5.62" fill="#fffffa"/>
<rect x="496.96" y="97.25" width="9.75" height="5.62" fill="#fffffa"/>
<rect x="506.66" y="97.25" width="9.75" height="5.62" fill="#fffffa"/>
<rect x="516.36" y="97.25" width="9.75" height="5.62" fill="#fffffa"/>
<rect x="526.05" y="97.25" width="9.75" height="5.62" fill="#fffffa"/>
<rect x="535.75" y="97.25" width="9.75" height="5.62" fill="#fffffa"/>
<rect x="312.70" y="102.83" width="9.75" height="5.62" fill="#fffffa"/>
<rect x="322.40" y="102.83" width="9.75" height="5.62" fill="#fffffa"/>
<rect x="332.10" y="102.83" width="9.75" height="5.62" fill="#fffffa"/>
<rect x="341.79" y="102.83" width="9.75" height="5.62" fill="#fffffa"/>
<rect x="351.49" y="102.83" width="9.75" height="5.62" fill="#fffef9"/>
<rect x="361.19" y="102.83" width="9.75" height="5.62" fill="#fffef9"/>
<rect x="370.89" y="102.83" width="9.75" height="5.62" fill="#fffef8"/>
<rect x="380.59" y="102.83" width="9.75" height="5.62" fill="#fffef7"/>
<rect x="390.28" y="102.83" width="9.75" height="5.62" fill="#fffef7"/>
<rect x="399.98" y="102.83" width="9.75" height="5.62" fill="#fffef6"/>
<rect x="409.68" y="102.83" width="9.75" height="5.62" fill="#fffef6"/>
<rect x="419.38" y="102.83" width="9.75" height="5.62" fill="#fffef5"/>
<rect x="429.07" y="102.83" width="9.75" height="5.62" fill="#fffef6"/>
<rect x="438.77" y="102.83" width="9.75" height="5.62" fill="#fffef6"/>
<rect x="448.47" y="102.83" width="9.75" height="5.62" fill="#fffef7"/>
<rect x="458.17" y="102.83" width="9.75" height="5.62" fill="#fffef7"/>
<rect x="467.87" y="102.83" width="9.75" height="5.62" fill="#fffef8"/>
<rect x="477.56" y="102.83" width="9.75" height="5.62" fill="#fffef9"/>
<rect x="487.26" y="102.83" width="9.75" height="5.62" fill="#fffef9"/>
<rect x="496.96" y="102.83" width="9.75" height="5.62" fill="#fffffa"/>
<rect x="506.66" y="102.83" width="9.75" height="5.62" fill="#fffffa"/>
<rect x="516.36" y="102.83" width="9.75" height="5.62" fill="#fffffa"/>
<rect x="526.05" y="102.83" width="9.75" height="5.62" fill="#fffffa"/>
<rect x="535.75" y="102.83" width="9.75" height="5.62" fill="#fffffa"/>
<rect x="312.70" y="108.40" width="9.75" height="5.62" fill="#fffffa"/>
<rect x="322.40" y="108.40" width="9.75" height="5.62" fill="#fffffa"/>
<rect x="332.10" y="108.40" width="9.75" height="5.62" fill="#fffffa"/>
<rect x="341.79" y="108.40" width="9.75" height="5.62" fill="#fffffa"/>
<rect x="351.49" y="108.40" width="9.75" height="5.62" fill="#fffffa"/>
<rect x="361.19" y="108.40" width="9.75" height="5.62" fill="#fffef9"/>
<rect x="370.89" y="108.40" width="9.75" height="5.62" fill="#fffef9"/>
<rect x="380.59" y="108.40" width="9.75" height="5.62" fill="#fffef8"/>
<rect x="390.28" y="108.40" width="9.75" height="5.62" fill="#fffef7"/>
<rect x="399.98" y="108.40" width="9.75" height="5.62" fill="#fffef6"/>
<rect x="409.68" y="108.40" width="9.75" height="5.62" fill="#fffef6"/>
<rect x="419.38" y="108.40" width="9.75" height="5.62" fill="#fffef6"/>
<rect x="429.07" y="108.40" width="9.75" height="5.62" fill="#fffef5"/>
<rect x="438.77" y="108.40" width="9.75" height="5.62" fill="#fffef6"/>
<rect x="448.47" y="108.40" width="9.75" height="5.62" fill="#fffef6"/>
<rect x="458.17" y="108.40" width="9.75" height="5.62" fill="#fffef6"/>
<rect x="467.87" y="108.40" width="9.75" height="5.62" fill="#fffef7"/>
<rect x="477.56" y="108.40" width="9.75" height="5.62" fill="#fffef8"/>
<rect x="487.26" y="108.40" width="9.75" height="5.62" fill="#fffef9"/>
<rect x="496.96" y="108.40" width="9.75" height="5.62" fill="#fffef9"/>
<rect x="506.66" y="108.40" width="9.75" height="5.62" fill="#fffffa"/>
<rect x="516.36" y="108.40" width="9.75" height="5.62" fill="#fffffa"/>
<rect x="526.05" y="108.40" width="9.75" height="5.62" fill="#fffffa"/>
<rect x="535.75" y="108.40" width="9.75" height="5.62" fill="#fffffa"/>
<rect x="312.70" y="113.98" width="9.75" height="5.62" fill="#fffffa"/>
<rect x="322.40" y="113.98" width="9.75" height="5.62" fill="#fffffa"/>
<rect x="332.10" y="113.98" width="9.75" height="5.62" fill="#fffffa"/>
<rect x="341.79" y="113.98" width="9.75" height="5.62" fill="#fffffa"/>
<rect x="351.49" y="113.98" width="9.75" height="5.62" fill="#fffffa"/>
<rect x="361.19" y="113.98" width="9.75" height="5.62" fill="#fffffa"/>
<rect x="370.89" y="113.98" width="9.75" height="5.62" fill="#fffef9"/>
<rect x="380.59" y="113.98" width="9.75" height="5.62" fill="#fffef9"/>
<rect x="390.28" y="113.98" width="9.75" height="5.62" fill="#fffef8"/>
<rect x="399.98" y="113.98" width="9.75" height="5.62" fill="#fffef7"/>
<rect x="409.68" y="113.98" width="9.75" height="5.62" fill="#fffef6"/>
<rect x="419.38" y="113.98" width="9.75" height="5.62" fill="#fffef6"/>
<rect x="429.07" y="113.98" width="9.75" height="5.62" fill="#fffef5"/>
<rect x="438.77" y="113.98" width="9.75" height="5.62" fill="#fffef5"/>
<rect x="448.47" y="113.98" width="9.75" height="5.62" fill="#fffef5"/>
<rect x="458.17" y="113.98" width="9.75" height="5.62" fill="#fffef6"/>
<rect x="467.87" y="113.98" width="9.75" height="5.62" fill="#fffef6"/>
<rect x="477.56" y="113.98" width="9.75" height="5.62" fill="#fffef7"/>
<rect x="487.26" y="113.98" width="9.75" height="5.62" fill="#fffef8"/>
<rect x="496.96" y="113.98" width="9.75" height="5.62" fill="#fffef9"/>
<rect x="506.66" y="113.98" width="9.75" height="5.62" fill="#fffef9"/>
<rect x="516.36" y="113.98" width="9.75" height="5.62" fill="#fffffa"/>
<rect x="526.05" y="113.98" width="9.75" height="5.62" fill="#fffffa"/>
<rect x="535.75" y="113.98" width="9.75" height="5.62" fill="#fffffa"/>
<rect x="312.70" y="119.55" width="9.75" height="5.62" fill="#fffffa"/>
<rect x="322.40" y="119.55" width="9.75" height="5.62" fill="#fffffa"/>
<rect x="332.10" y="119.55" width="9.75" height="5.62" fill="#fffffa"/>
<rect x="341.79" y="119.55" width="9.75" height="5.62" fill="#fffffa"/>
<rect x="351.49" y="119.55" width="9.75" height="5.62" fill="#fffffa"/>
<rect x="361.19" y="119.55" width="9.75" height="5.62" fill="#fffffa"/>
<rect x="370.89" y="119.55" width="9.75" height="5.62" fill="#fffffa"/>
<rect x="380.59" y="119.55" width="9.75" height="5.62" fill="#fffef9"/>
<rect x="390.28" y="119.55" width="9.75" height="5.62" fill="#fffef8"/>
<rect x="399.98" y="119.55" width="9.75" height="5.62" fill="#fffef8"/>
<rect x="409.68" y="119.55" width="9.75" height="5.62" fill="#fffef7"/>
<rect x="419.38" y="119.55" width="9.75" height="5.62" fill="#fffef6"/>
<rect x="429.07" y="119.55" width="9.75" height="5.62" fill="#fffef6"/>
<rect x="438.77" y="119.55" width="9.75" height="5.62" fill="#fffef5"/>
<rect x="448.47" y="119.55" width="9.75" height="5.62" fill="#fffef5"/>
<rect x="458.17" y="119.55" width="9.75" height="5.62" fill="#fffef5"/>
<rect x="467.87" y="119.55" width="9.75" height="5.62" fill="#fffef6"/>
<rect x="477.56" y="119.55" width="9.75" height="5.62" fill="#fffef6"/>
<rect x="487.26" y="119.55" width="9.75" height="5.62" fill="#fffef7"/>
<rect x="496.96" y="119.55" width="9.75" height="5.62" fill="#fffef8"/>
<rect x="506.66" y="119.55" width="9.75" height="5.62" fill="#fffef8"/>
<rect x="516.36" y="119.55" width="9.75" height="5.62" fill="#fffef9"/>
<rect x="526.05" y="119.55" width="9.75" height="5.62" fill="#fffffa"/>
<rect x="535.75" y="119.55" width="9.75" height="5.62" fill="#fffffa"/>
<rect x="322.40" y="125.12" width="9.75" height="5.62" fill="#fffffa"/>
<rect x="332.10" y="125.12" width="9.75" height="5.62" fill="#fffffa"/>
<rect x="341.79" y="125.12" width="9.75" height="5.62" fill="#fffffa"/>
<rect x="351.49" y="125.12" width="9.75" height="5.62" fill="#fffffa"/>
<rect x="361.19" y="125.12" width="9.75" height="5.62" fill="#fffffa"/>
<rect x="370.89" y="125.12" width="9.75" height="5.62" fill="#fffffa"/>
<rect x="380.59" y="125.12" width="9.75" height="5.62" fill="#fffffa"/>
<rect x="390.28" y="125.12" width="9.75" height="5.62" fill="#fffef9"/>
<rect x="399.98" y="125.12" width="9.75" height="5.62" fill="#fffef8"/>
<rect x="409.68" y="125.12" width="9.75" height="5.62" fill="#fffef8"/>
<rect x="419.38" y="125.12" width="9.75" height="5.62" fill="#fffef7"/>
<rect x="429.07" y="125.12" width="9.75" height="5.62" fill="#fffef6"/>
<rect x="438.77" y="125.12" width="9.75" height="5.62" fill="#fffef6"/>
<rect x="448.47" y="125.12" width="9.75" height="5.62" fill="#fffef5"/>
<rect x="458.17" y="125.12" width="9.75" height="5.62" fill="#fffef5"/>
<rect x="467.87" y="125.12" width="9.75" height="5.62" fill="#fffef5"/>
<rect x="477.56" y="125.12" width="9.75" height="5.62" fill="#fffef6"/>
<rect x="487.26" y="125.12" width="9.75" height="5.62" fill="#fffef6"/>
<rect x="496.96" y="125.12" width="9.75" height="5.62" fill="#fffef7"/>
<rect x="506.66" y="125.12" width="9.75" height="5.62" fill="#fffef8"/>
<rect x="516.36" y="125.12" width="9.75" height="5.62" fill="#fffef8"/>
<rect x="526.05" y="125.12" width="9.75" height="5.62" fill="#fffef9"/>
<rect x="535.75" y="125.12" width="9.75" height="5.62" fill="#fffffa"/>
<rect x="332.10" y="130.70" width="9.75" height="5.62" fill="#fffffa"/>
<rect x="341.79" y="130.70" width="9.75" height="5.62" fill="#fffffa"/>
<rect x="351.49" y="130.70" width="9.75" height="5.62" fill="#fffffa"/>
<rect x="361.19" y="130.70" width="9.75" height="5.62" fill="#fffffa"/>
<rect x="370.89" y="130.70" width="9.75" height="5.62" fill="#fffffa"/>
<rect x="380.59" y="130.70" width="9.75" height="5.62" fill="#fffffa"/>
<rect x="390.28" y="130.70" width="9.75" height="5.62" fill="#fffffa"/>
<rect x="399.98" y="130.70" width="9.75" height="5.62" fill="#fffef9"/>
<rect x="409.68" y="130.70" width="9.75" height="5.62" fill="#fffef8"/>
<rect x="419.38" y="130.70" width="9.75" height="5.62" fill="#fffef8"/>
<rect x="429.07" y="130.70" width="9.75" height="5.62" fill="#fffef7"/>
<rect x="438.77" y="130.70" width="9.75" height="5.62" fill="#fffef6"/>
<rect x="448.47" y="130.70" width="9.75" height="5.62" fill="#fffef6"/>
<rect x="458.17" y="130.70" width="9.75" height="5.62" fill="#fffef5"/>
<rect x="467.87" y="130.70" width="9.75" height="5.62" fill="#fffef5"/>
<rect x="477.56" y="130.70" width="9.75" height="5.62" fill="#fffef5"/>
<rect x="487.26" y="130.70" width="9.75" height="5.62" fill="#fffef6"/>
<rect x="496.96" y="130.70" width="9.75" height="5.62" fill="#fffef6"/>
<rect x="506.66" y="130.70" width="9.75" height="5.62" fill="#fffef7"/>
<rect x="516.36" y="130.70" width="9.75" height="5.62" fill="#fffef8"/>
<rect x="526.05" y="130.70" width="9.75" height="5.62" fill="#fffef8"/>
<rect x="535.75" y="130.70" width="9.75" height="5.62" fill="#fffef9"/>
<rect x="341.79" y="136.28" width="9.75" height="5.62" fill="#fffffa"/>
<rect x="351.49" y="136.28" width="9.75" height="5.62" fill="#fffffa"/>
<rect x="361.19" y="136.28" width="9.75" height="5.62" fill="#fffffa"/>
<rect x="370.89" y="136.28" width="9.75" height="5.62" fill="#fffffa"/>
<rect x="380.59" y="136.28" width="9.75" height="5.62" fill="#fffffa"/>
<rect x="390.28" y="136.28" width="9.75" height="5.62" fill="#fffffa"/>
<rect x="399.98" y="136.28" width="9.75" height="5.62" fill="#fffff9"/>
<rect x="409.68" y="136.28" width="9.75" height="5.62" fill="#fffef9"/>
<rect x="419.38" y="136.28" width="9.75" height="5.62" fill="#fffef8"/>
<rect x="429.07" y="136.28" width="9.75" height="5.62" fill="#fffef8"/>
<rect x="438.77" y="136.28" width="9.75" height="5.62" fill="#fffef7"/>
<rect x="448.47" y="136.28" width="9.75" height="5.62" fill="#fffef6"/>
<rect x="458.17" y="136.28" width="9.75" height="5.62" fill="#fffef6"/>
<rect x="467.87" y="136.28" width="9.75" height="5.62" fill="#fffef5"/>
<rect x="477.56" y="136.28" width="9.75" height="5.62" fill="#fffef5"/>
<rect x="487.26" y="136.28" width="9.75" height="5.62" fill="#fffef5"/>
<rect x="496.96" y="136.28" width="9.75" height="5.62" fill="#fffef6"/>
<rect x="506.66" y="136.28" width="9.75" height="5.62" fill="#fffef6"/>
<rect x="516.36" y="136.28" width="9.75" height="5.62" fill="#fffef7"/>
<rect x="526.05" y="136.28" width="9.75" height="5.62" fill="#fffef8"/>
<rect x="535.75" y="136.28" width="9.75" height="5.62" fill="#fffef8"/>
<rect x="351.49" y="141.85" width="9.75" height="5.62" fill="#fffffa"/>
<rect x="361.19" y="141.85" width="9.75" height="5.62" fill="#fffffa"/>
<rect x="370.89" y="141.85" width="9.75" height="5.62" fill="#fffffa"/>
<rect x="380.59" y="141.85" width="9.75" height="5.62" fill="#fffffa"/>
<rect x="390.28" y="141.85" width="9.75" height="5.62" fill="#fffffa"/>
<rect x="399.98" y="141.85" width="9.75" height="5.62" fill="#fffffa"/>
<rect x="409.68" y="141.85" width="9.75" height="5.62" fill="#fffff9"/>
<rect x="419.38" y="141.85" width="9.75" height="5.62" fill="#fffef9"/>
<rect x="429.07" y="141.85" width="9.75" height="5.62" fill="#fffef8"/>
<rect x="438.77" y="141.85" width="9.75" height="5.62" fill="#fffef8"/>
<rect x="448.47" y="141.85" width="9.75" height="5.62" fill="#fffef7"/>
<rect x="458.17" y="141.85" width="9.75" height="5.62" fill="#fffef6"/>
<rect x="467.87" y="141.85" width="9.75" height="5.62" fill="#fffef5"/>
<rect x="477.56" y="141.85" width="9.75" height="5.62" fill="#fffef5"/>
<rect x="487.26" y="141.85" width="9.75" height="5.62" fill="#fffef5"/>
<rect x="496.96" y="141.85" width="9.75" height="5.62" fill="#fffef5"/>
<rect x="506.66" y="141.85" width="9.75" height="5.62" fill="#fffef5"/>
<rect x="516.36" y="141.85" width="9.75" height="5.62" fill="#fffef6"/>
<rect x="526.05" y="141.85" width="9.75" height="5.62" fill="#fffef7"/>
<rect x="535.75" y="141.85" width="9.75" height="5.62" fill="#fffef8"/>
<rect x="361.19" y="147.43" width="9.75" height="5.62" fill="#fffffa"/>
<rect x="370.89" y="147.43" width="9.75" height="5.62" fill="#fffffa"/>
<rect x="380.59" y="147.43" width="9.75" height="5.62" fill="#fffffa"/>
<rect x="390.28" y="147.43" width="9.75" height="5.62" fill="#fffffa"/>
<rect x="399.98" y="147.43" width="9.75" height="5.62" fill="#fffffa"/>
<rect x="409.68" y="147.43" width="9.75" height="5.62" fill="#fffffa"/>
<rect x="419.38" y="147.43" width="9.75" height="5.62" fill="#fffff9"/>
<rect x="429.07" y="147.43" width="9.75" height="5.62" fill="#fffef9"/>
<rect x="438.77" y="147.43" width="9.75" height="5.62" fill="#fffef8"/>
<rect x="448.47" y="147.43" width="9.75" height="5.62" fill="#fffef8"/>
<rect x="458.17" y="147.43" width="9.75" height="5.62" fill="#fffef7"/>
<rect x="467.87" y="147.43" width="9.75" height="5.62" fill="#fffef6"/>
<rect x="477.56" y="147.43" width="9.75" height="5.62" fill="#fffef5"/>
<rect x="487.26" y="147.43" width="9.75" height="5.62" fill="#fffef5"/>
<rect x="496.96" y="147.43" width="9.75" height="5.62" fill="#fffef5"/>
<rect x="506.66" y="147.43" width="9.75" height="5.62" fill="#fffef5"/>
<rect x="516.36" y="147.43" width="9.75" height="5.62" fill="#fffef5"/>
<rect x="526.05" y="147.43" width="9.75" height="5.62" fill="#fffef6"/>
<rect x="535.75" y="147.43" width="9.75" height="5.62" fill="#fffef7"/>
<rect x="370.89" y="153.00" width="9.75" height="5.62" fill="#fffffa"/>
<rect x="380.59" y="153.00" width="9.75" height="5.62" fill="#fffffa"/>
<rect x="390.28" y="153.00" width="9.75" height="5.62" fill="#fffffa"/>
<rect x="399.98" y="153.00" width="9.75" height="5.62" fill="#fffffa"/>
<rect x="409.68" y="153.00" width="9.75" height="5.62" fill="#fffffa"/>
<rect x="419.38" y="153.00" width="9.75" height="5.62" fill="#fffffa"/>
<rect x="429.07" y="153.00" width="9.75" height="5.62" fill="#fffff9"/>
<rect x="438.77" y="153.00" width="9.75" height="5.62" fill="#fffef9"/>
<rect x="448.47" y="153.00" width="9.75" height="5.62" fill="#fffef8"/>
<rect x="458.17" y="153.00" width="9.75" height="5.62" fill="#fffef8"/>
<rect x="467.87" y="153.00" width="9.75" height="5.62" fill="#fffef7"/>
<rect x="477.56" y="153.00" width="9.75" height="5.62" fill="#fffef6"/>
<rect x="487.26" y="153.00" width="9.75" height="5.62" fill="#fffef5"/>
<rect x="496.96" y="153.00" width="9.75" height="5.62" fill="#fffef5"/>
<rect x="506.66" y="153.00" width="9.75" height="5.62" fill="#fffef5"/>
<rect x="516.36" y="153.00" width="9.75" height="5.62" fill="#fffef5"/>
<rect x="526.05" y="153.00" width="9.75" height="5.62" fill="#fffef5"/>
<rect x="535.75" y="153.00" width="9.75" height="5.62" fill="#fffef6"/>
<rect x="380.59" y="158.57" width="9.75" height="5.62" fill="#fffffa"/>
<rect x="390.28" y="158.57" width="9.75" height="5.62" fill="#fffffa"/>
<rect x="399.98" y="158.57" width="9.75" height="5.62" fill="#fffffa"/>
<rect x="409.68" y="158.57" width="9.75" height="5.62" fill="#fffffa"/>
<rect x="419.38" y="158.57" width="9.75" height="5.62" fill="#fffffa"/>
<rect x="429.07" y="158.57" width="9.75" height="5.62" fill="#fffffa"/>
<rect x="438.77" y="158.57" width="9.75" height="5.62" fill="#fffff9"/>
<rect x="448.47" y="158.57" width="9.75" height="5.62" fill="#fffef9"/>
<rect x="458.17" y="158.57" width="9.75" height="5.62" fill="#fffef8"/>
<rect x="467.87" y="158.57" width="9.75" height="5.62" fill="#fffef8"/>
<rect x="477.56" y="158.57" width="9.75" height="5.62" fill="#fffef7"/>
<rect x="487.26" y="158.57" width="9.75" height="5.62" fill="#fffef6"/>
<rect x="496.96" y="158.57" width="9.75" height="5.62" fill="#fffef5"/>
<rect x="506.66" y="158.57" width="9.75" height="5.62" fill="#fffef5"/>
<rect x="516.36" y="158.57" width="9.75" height="5.62" fill="#fffef5"/>
<rect x="526.05" y="158.57" width="9.75" height="5.62" fill="#fffef5"/>
<rect x="535.75" y="158.57" width="9.75" height="5.62" fill="#fffef5"/>
<rect x="390.28" y="164.15" width="9.75" height="5.62" fill="#fffffa"/>
<rect x="399.98" y="164.15" width="9.75" height="5.62" fill="#fffffa"/>
<rect x="409.68" y="164.15" width="9.75" height="5.62" fill="#fffffa"/>
<rect x="419.38" y="164.15" width="9.75" height="5.62" fill="#fffffa"/>
<rect x="429.07" y="164.15" width="9.75" height="5.62" fill="#fffffa"/>
<rect x="438.77" y="164.15" width="9.75" height="5.62" fill="#fffffa"/>
<rect x="448.47" y="164.15" width="9.75" height="5.62" fill="#fffff9"/>
<rect x="458.17" y="164.15" width="9.75" height="5.62" fill="#fffef9"/>
<rect x="467.87" y="164.15" width="9.75" height="5.62" fill="#fffef8"/>
<rect x="477.56" y="164.15" width="9.75" height="5.62" fill="#fffef7"/>
<rect x="487.26" y="164.15" width="9.75" height="5.62" fill="#fffef7"/>
<rect x="496.96" y="164.15" width="9.75" height="5.62" fill="#fffef6"/>
<rect x="506.66" y="164.15" width="9.75" height="5.62" fill="#fffef5"/>
<rect x="516.36" y="164.15" width="9.75" height="5.62" fill="#fffef5"/>
<rect x="526.05" y="164.15" width="9.75" height="5.62" fill="#fffef5"/>
<rect x="535.75" y="164.15" width="9.75" height="5.62" fill="#fffef5"/>
<rect x="399.98" y="169.72" width="9.75" height="5.62" fill="#fffffa"/>
<rect x="409.68" y="169.72" width="9.75" height="5.62" fill="#fffffa"/>
<rect x="419.38" y="169.72" width="9.75" height="5.62" fill="#fffffa"/>
<rect x="429.07" y="169.72" width="9.75" height="5.62" fill="#fffffa"/>
<rect x="438.77" y="169.72" width="9.75" height="5.62" fill="#fffffa"/>
<rect x="448.47" y="169.72" width="9.75" height="5.62" fill="#fffffa"/>
<rect x="458.17" y="169.72" width="9.75" height="5.62" fill="#fffff9"/>
<rect x="467.87" y="169.72" width="9.75" height="5.62" fill="#fffef9"/>
<rect x="477.56" y="169.72" width="9.75" height="5.62" fill="#fffef8"/>
<rect x="487.26" y="169.72" width="9.75" height="5.62" fill="#fffef7"/>
<rect x="496.96" y="169.72" width="9.75" height="5.62" fill="#fffef7"/>
<rect x="506.66" y="169.72" width="9.75" height="5.62" fill="#fffef6"/>
<rect x="516.36" y="169.72" width="9.75" height="5.62" fill="#fffef5"/>
<rect x="526.05" y="169.72" width="9.75" height="5.62" fill="#fffef5"/>
<rect x="535.75" y="169.72" width="9.75" height="5.62" fill="#fffef4"/>
</g>
<rect x="312.7" y="41.5" width="232.75" height="133.8" fill="none" stroke="#626262" stroke-width="0.9"/>
<line x1="317.55" x2="317.55" y1="175.3" y2="177.3" stroke="#444" stroke-width="0.7"/>
<text class="tk" transform="translate(317.35,186.75) scale(0.825,1)" text-anchor="middle">t-24</text>
<line x1="366.04" x2="366.04" y1="175.3" y2="177.3" stroke="#444" stroke-width="0.7"/>
<text class="tk" transform="translate(365.84,186.75) scale(0.825,1)" text-anchor="middle">t-19</text>
<line x1="424.23" x2="424.23" y1="175.3" y2="177.3" stroke="#444" stroke-width="0.7"/>
<text class="tk" transform="translate(424.03,186.75) scale(0.825,1)" text-anchor="middle">t-13</text>
<line x1="482.41" x2="482.41" y1="175.3" y2="177.3" stroke="#444" stroke-width="0.7"/>
<text class="tk" transform="translate(482.21,186.75) scale(0.825,1)" text-anchor="middle">t-7</text>
<line x1="540.60" x2="540.60" y1="175.3" y2="177.3" stroke="#444" stroke-width="0.7"/>
<text class="tk" transform="translate(540.40,186.75) scale(0.825,1)" text-anchor="middle">t-1</text>
<line x1="310.7" x2="312.7" y1="44.29" y2="44.29" stroke="#444" stroke-width="0.7"/>
<text class="tk" transform="translate(307.90,47.59) scale(0.825,1)" text-anchor="end">t+0</text>
<line x1="310.7" x2="312.7" y1="72.16" y2="72.16" stroke="#444" stroke-width="0.7"/>
<text class="tk" transform="translate(307.90,75.46) scale(0.825,1)" text-anchor="end">t+5</text>
<line x1="310.7" x2="312.7" y1="105.61" y2="105.61" stroke="#444" stroke-width="0.7"/>
<text class="tk" transform="translate(307.90,108.91) scale(0.825,1)" text-anchor="end">t+11</text>
<line x1="310.7" x2="312.7" y1="139.06" y2="139.06" stroke="#444" stroke-width="0.7"/>
<text class="tk" transform="translate(307.90,142.36) scale(0.825,1)" text-anchor="end">t+17</text>
<line x1="310.7" x2="312.7" y1="172.51" y2="172.51" stroke="#444" stroke-width="0.7"/>
<text class="tk" transform="translate(307.90,175.81) scale(0.825,1)" text-anchor="end">t+23</text>
<text class="lb" x="429.07" y="196.90" text-anchor="middle">Input Time Step</text>
<text class="lb" transform="translate(287.80,108.40) rotate(-90)" text-anchor="middle">Output Time Step</text>
<text class="tt" style="font-size:10.72px" y="37.25"><tspan x="367.2">IMF2(Medium–High</tspan> <tspan x="464.0">Frequency)</tspan></text>
<g>
<rect x="36.5" y="221.3" width="232.25" height="133.4" fill="#fffef4"/>
</g>
<rect x="36.5" y="221.3" width="232.25" height="133.4" fill="none" stroke="#626262" stroke-width="0.9"/>
<line x1="41.34" x2="41.34" y1="354.70000000000005" y2="356.70000000000005" stroke="#444" stroke-width="0.7"/>
<text class="tk" transform="translate(41.14,365.50) scale(0.825,1)" text-anchor="middle">t-24</text>
<line x1="89.72" x2="89.72" y1="354.70000000000005" y2="356.70000000000005" stroke="#444" stroke-width="0.7"/>
<text class="tk" transform="translate(89.52,365.50) scale(0.825,1)" text-anchor="middle">t-19</text>
<line x1="147.79" x2="147.79" y1="354.70000000000005" y2="356.70000000000005" stroke="#444" stroke-width="0.7"/>
<text class="tk" transform="translate(147.59,365.50) scale(0.825,1)" text-anchor="middle">t-13</text>
<line x1="205.85" x2="205.85" y1="354.70000000000005" y2="356.70000000000005" stroke="#444" stroke-width="0.7"/>
<text class="tk" transform="translate(205.65,365.50) scale(0.825,1)" text-anchor="middle">t-7</text>
<line x1="263.91" x2="263.91" y1="354.70000000000005" y2="356.70000000000005" stroke="#444" stroke-width="0.7"/>
<text class="tk" transform="translate(263.71,365.50) scale(0.825,1)" text-anchor="middle">t-1</text>
<line x1="34.5" x2="36.5" y1="224.08" y2="224.08" stroke="#444" stroke-width="0.7"/>
<text class="tk" transform="translate(31.70,227.38) scale(0.825,1)" text-anchor="end">t+0</text>
<line x1="34.5" x2="36.5" y1="251.87" y2="251.87" stroke="#444" stroke-width="0.7"/>
<text class="tk" transform="translate(31.70,255.17) scale(0.825,1)" text-anchor="end">t+5</text>
<line x1="34.5" x2="36.5" y1="285.22" y2="285.22" stroke="#444" stroke-width="0.7"/>
<text class="tk" transform="translate(31.70,288.52) scale(0.825,1)" text-anchor="end">t+11</text>
<line x1="34.5" x2="36.5" y1="318.57" y2="318.57" stroke="#444" stroke-width="0.7"/>
<text class="tk" transform="translate(31.70,321.87) scale(0.825,1)" text-anchor="end">t+17</text>
<line x1="34.5" x2="36.5" y1="351.92" y2="351.92" stroke="#444" stroke-width="0.7"/>
<text class="tk" transform="translate(31.70,355.22) scale(0.825,1)" text-anchor="end">t+23</text>
<text class="lb" x="152.62" y="377.40" text-anchor="middle">Input Time Step</text>
<text class="lb" transform="translate(11.10,288.00) rotate(-90)" text-anchor="middle">Output Time Step</text>
<text class="tt" x="76.8" y="217.05">IMF6 (Medium–Low Frequency)</text>
<g>
<rect x="312.7" y="221.3" width="232.75" height="133.4" fill="#fffef4"/>
</g>
<rect x="312.7" y="221.3" width="232.75" height="133.4" fill="none" stroke="#626262" stroke-width="0.9"/>
<line x1="317.55" x2="317.55" y1="354.70000000000005" y2="356.70000000000005" stroke="#444" stroke-width="0.7"/>
<text class="tk" transform="translate(317.35,365.50) scale(0.825,1)" text-anchor="middle">t-24</text>
<line x1="366.04" x2="366.04" y1="354.70000000000005" y2="356.70000000000005" stroke="#444" stroke-width="0.7"/>
<text class="tk" transform="translate(365.84,365.50) scale(0.825,1)" text-anchor="middle">t-19</text>
<line x1="424.23" x2="424.23" y1="354.70000000000005" y2="356.70000000000005" stroke="#444" stroke-width="0.7"/>
<text class="tk" transform="translate(424.03,365.50) scale(0.825,1)" text-anchor="middle">t-13</text>
<line x1="482.41" x2="482.41" y1="354.70000000000005" y2="356.70000000000005" stroke="#444" stroke-width="0.7"/>
<text class="tk" transform="translate(482.21,365.50) scale(0.825,1)" text-anchor="middle">t-7</text>
<line x1="540.60" x2="540.60" y1="354.70000000000005" y2="356.70000000000005" stroke="#444" stroke-width="0.7"/>
<text class="tk" transform="translate(540.40,365.50) scale(0.825,1)" text-anchor="middle">t-1</text>
<line x1="310.7" x2="312.7" y1="224.08" y2="224.08" stroke="#444" stroke-width="0.7"/>
<text class="tk" transform="translate(307.90,227.38) scale(0.825,1)" text-anchor="end">t+0</text>
<line x1="310.7" x2="312.7" y1="251.87" y2="251.87" stroke="#444" stroke-width="0.7"/>
<text class="tk" transform="translate(307.90,255.17) scale(0.825,1)" text-anchor="end">t+5</text>
<line x1="310.7" x2="312.7" y1="285.22" y2="285.22" stroke="#444" stroke-width="0.7"/>
<text class="tk" transform="translate(307.90,288.52) scale(0.825,1)" text-anchor="end">t+11</text>
<line x1="310.7" x2="312.7" y1="318.57" y2="318.57" stroke="#444" stroke-width="0.7"/>
<text class="tk" transform="translate(307.90,321.87) scale(0.825,1)" text-anchor="end">t+17</text>
<line x1="310.7" x2="312.7" y1="351.92" y2="351.92" stroke="#444" stroke-width="0.7"/>
<text class="tk" transform="translate(307.90,355.22) scale(0.825,1)" text-anchor="end">t+23</text>
<text class="lb" x="429.07" y="377.40" text-anchor="middle">Input Time Step</text>
<text class="lb" transform="translate(287.80,288.00) rotate(-90)" text-anchor="middle">Output Time Step</text>
<text class="tt" x="366.5" y="217.05">IMF7 (Low Frequency)</text>
</svg></body></html>
